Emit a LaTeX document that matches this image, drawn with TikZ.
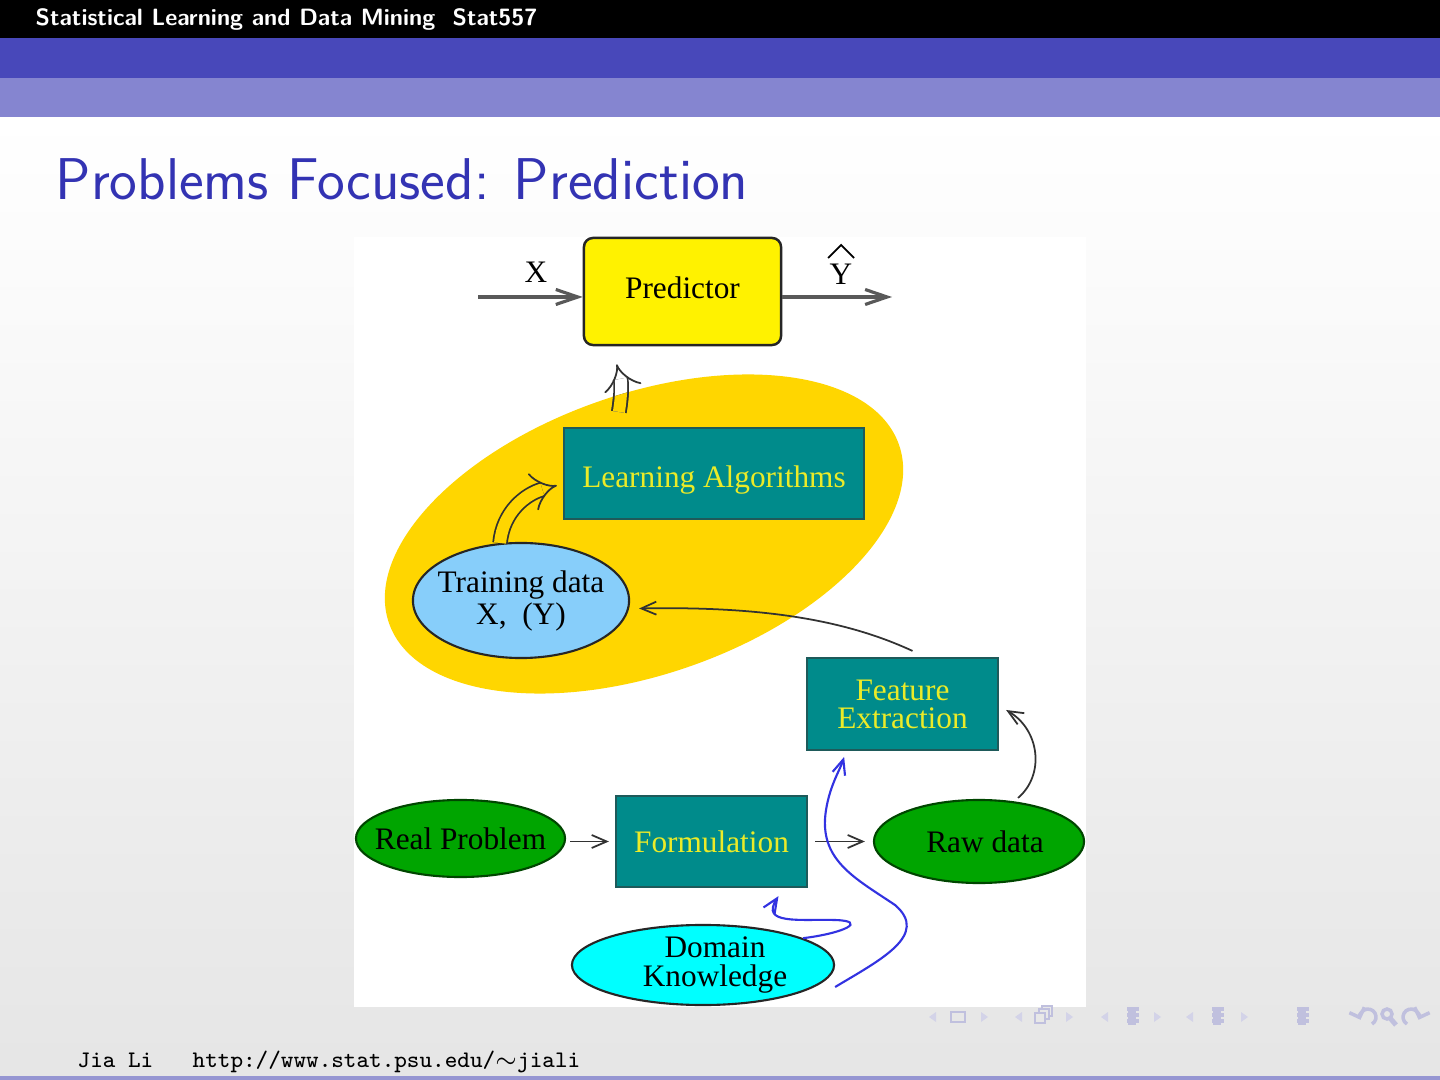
\documentclass[tikz,border=0pt]{standalone}
\usepackage{fontspec}
\newfontfamily\figfont{Liberation Serif}
\usetikzlibrary{shapes.geometric, arrows.meta, positioning, calc}
\definecolor{barblue}{RGB}{72,72,186}
\definecolor{barlight}{RGB}{133,133,208}
\definecolor{titleblue}{RGB}{51,51,179}
\definecolor{footline}{RGB}{150,150,210}
\definecolor{navgray}{RGB}{192,192,222}
\definecolor{gold}{RGB}{255,214,0}
\definecolor{tealfill}{RGB}{0,139,139}
\definecolor{tealedge}{RGB}{30,90,90}
\definecolor{boxtext}{RGB}{235,235,40}
\definecolor{skyblue}{RGB}{135,206,250}
\definecolor{grass}{RGB}{0,165,0}
\definecolor{grassedge}{RGB}{0,70,0}
\definecolor{aqua}{RGB}{0,255,255}
\definecolor{penblue}{RGB}{50,50,225}
\definecolor{pengray}{RGB}{50,50,50}
\tikzset{
  figtext/.style={
    font=\figfont\fontsize{8.9}{8}\selectfont, align=center
  },
  tealbox/.style={
    figtext, draw=tealedge, fill=tealfill, text=boxtext,
    line width=0.6pt, inner sep=0pt
  },
  predbox/.style={
    figtext, draw=black!85, fill=yellow, rounded corners=0.09cm,
    line width=0.7pt, minimum width=1.97cm, minimum height=1.07cm
  },
  datanode/.style={
    figtext, ellipse, draw=black!85, line width=0.6pt,
    inner xsep=-4mm, inner ysep=-1mm
  },
  arrow/.style={
    -{Straight Barb[length=1.5mm,width=1.3mm]}, line width=0.5pt, draw=pengray
  },
  thickarrow/.style={
    -{Straight Barb[length=2.2mm,width=1.5mm]}, line width=0.9pt, draw=black!65
  },
  bluearrow/.style={
    arrow, line width=0.6pt, draw=penblue
  },
  dblarrow/.style={
    double, double distance=1.2mm, line width=0.5pt, draw=pengray,
    -{Implies[scale=1.5]}
  },
  goldoval/.style={
    rotate around={19.3:(644,534)}
  },
  navicon/.style={
    draw=navgray, line width=0.7pt
  },
}

\begin{document}
\begin{tikzpicture}[x=0.01cm, y=-0.01cm]
  \useasboundingbox (0,0) rectangle (1440,1080);

  %%% Slide frame %%%
  \shade[top color=white, bottom color=black!10] (0,117) rectangle (1440,1080);
  \fill[black] (0,0) rectangle (1440,38);
  \fill[barblue] (0,38) rectangle (1440,78);
  \fill[barlight] (0,78) rectangle (1440,117);
  \fill[footline] (0,1076) rectangle (1440,1080);

  \node[anchor=base west, inner sep=0pt, text=white,
        font=\sffamily\bfseries\fontsize{6.7}{8}\selectfont] (head) at (35,26)
    {Statistical Learning and Data Mining\ \ Stat557};
  \node[anchor=base west, inner sep=0pt, text=titleblue,
        font=\sffamily\fontsize{16.75}{19}\selectfont] (title) at (55,200)
    {Problems Focused: Prediction};
  \node[anchor=base west, inner sep=0pt,
        font=\ttfamily\fontsize{6.75}{8}\selectfont] (author) at (77,1067)
    {Jia Li};
  \node[anchor=base west, inner sep=0pt,
        font=\ttfamily\fontsize{6.75}{8}\selectfont] (url) at (192,1067)
    {http://www.stat.psu.edu/$\sim$jiali};

  %%% Figure panel %%%
  \fill[white] (354,237) rectangle (1086,1007);
  \fill[gold, goldoval] (644,534) ellipse [x radius=2.70cm, y radius=1.40cm];

  %%% Nodes %%%
  \node[predbox, text depth=0.8mm] (pred) at (682.5,291.5) {Predictor};

  \node[tealbox, minimum width=3.0cm, minimum height=0.91cm, text height=3.4mm]
    (learn) at (714,473.5) {Learning Algorithms};

  \node[datanode, fill=skyblue, minimum width=2.16cm, minimum height=1.15cm]
    (train) at (521,600.5) {Training data\\X,\ \ (Y)};

  \node[tealbox, minimum width=1.91cm, minimum height=0.92cm] (feat)
    at (902.5,704) {Feature\\Extraction};

  \node[tealbox, minimum width=1.91cm, minimum height=0.91cm] (form)
    at (711.5,841.5) {Formulation};

  \node[datanode, fill=grass, draw=grassedge, minimum width=2.09cm,
        minimum height=0.77cm] (real) at (460.5,838.5) {Real Problem};

  \node[datanode, fill=grass, draw=grassedge, minimum width=2.10cm,
        minimum height=0.83cm] (raw) at (979,841.5) {\hspace*{0.12cm}Raw data};

  \node[datanode, fill=aqua, minimum width=2.62cm, minimum height=0.80cm]
    (dom) at (703,965) {\hspace*{0.24cm}Domain\\\hspace*{0.24cm}Knowledge};

  %%% Input / output of the predictor %%%
  \node[figtext] (xlbl) at (536,272) {X};
  \node[figtext] (yhat) at (841,274) {Y};
  \draw[line width=0.5pt] ($(yhat)+(-13,-16)$) -- ++(13,-13) -- ++(13,13);

  \coordinate (xin) at (478,297);
  \coordinate (yout) at (892,297);
  \draw[thickarrow] (xin) -- (xin -| pred.west);
  \draw[thickarrow] (pred.east |- yout) -- (yout);

  %%% Double arrows %%%
  \draw[dblarrow, double=white] ($(learn.north west)+(56,-15)$) to[bend right=12]
    ($(pred.south west)+(34,18)$);
  \begin{scope}
    \clip[goldoval] (644,534) ellipse [x radius=2.70cm, y radius=1.40cm];
    \draw[dblarrow, double=gold] ($(learn.north west)+(56,-15)$) to[bend right=12]
      ($(pred.south west)+(34,18)$);
  \end{scope}
  \draw[dblarrow, double=gold] (train.110) to[out=85, in=195]
    ($(learn.west)+(-6,12)$);

  %%% Data flow %%%
  \draw[arrow, shorten <=0.04cm, shorten >=0.06cm] (real.east |- form.west) -- (form.west);
  \draw[arrow, shorten <=0.07cm, shorten >=0.08cm] (form.east) -- (raw.west);
  \draw[arrow] ($(raw.north)+(39,-1)$) .. controls (1045,775) and (1040,730)
    .. ($(feat.east)+(7,6)$);
  \draw[arrow] ($(feat.north)+(10,-6)$) .. controls (850,622) and (770,606)
    .. ($(train.east)+(9,8)$);

  %%% Domain knowledge %%%
  \draw[bluearrow] (dom.15) .. controls (845,933) and (868,921) .. (835,920)
    .. controls (800,919) and (760,925) .. ($(form.south)+(67,8)$);
  \draw[bluearrow] ($(dom.east)+(0,22)$) .. controls (880,960) and (930,935)
    .. (895,905) .. controls (855,878) and (818,860) .. (826,810)
    .. controls (830,785) and (840,770) .. ($(form.north east)+(36,-38)$);

  %%% Navigation symbols %%%
  \foreach \xa/\xb in {932/985, 1018/1070, 1104/1158, 1189/1245} {
    \fill[navgray!70!white] (\xa-3,1017) -- ++(7,-5) -- ++(0,10) -- cycle;
    \fill[navgray!70!white] (\xb+3,1017) -- ++(-7,-5) -- ++(0,10) -- cycle;
  }
  \draw[navicon] (951,1012) rectangle (965,1022);
  \draw[navicon, fill=black!9] (1042,1006) rectangle (1052,1016);
  \draw[navicon, fill=black!9] (1039,1009) rectangle (1049,1019);
  \draw[navicon, fill=black!9] (1035,1013) rectangle (1045,1023);
  \foreach \xc in {1133, 1218, 1303} {
    \foreach \yc in {-8, -2, 4} {
      \draw[navicon, line width=1pt] (\xc-6,1017+\yc) -- (\xc+6,1017+\yc);
      \draw[navicon, line width=0.4pt] (\xc-5,1020+\yc) -- (\xc+3,1020+\yc);
    }
  }
  \draw[navicon, line width=1pt, -{Straight Barb[length=0.8mm]}]
    (1372,1024) arc[start angle=-60, end angle=200, radius=0.08cm];
  \draw[navicon, line width=1pt] (1387,1014) circle[radius=0.05cm];
  \draw[navicon, line width=1.4pt] (1390,1018) -- (1396,1025);
  \draw[navicon, line width=1pt, -{Straight Barb[length=0.8mm]}]
    (1407,1024) arc[start angle=240, end angle=-20, radius=0.08cm];
\end{tikzpicture}
\end{document}
